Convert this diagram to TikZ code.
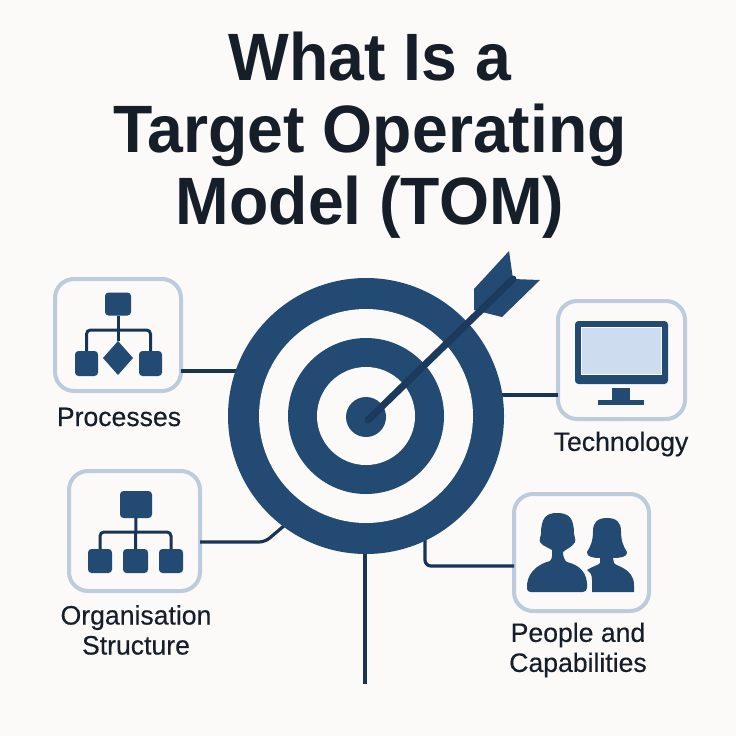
\documentclass[tikz,border=0pt]{standalone}
\usepackage{fontspec}
\usetikzlibrary{shapes.geometric}
\setmainfont{Liberation Sans}
\newfontfamily\titlefont[FakeStretch=0.96]{Liberation Sans}
\newfontfamily\labelfont[FakeBold=0.35]{Liberation Sans}
\definecolor{pagebg}{HTML}{FBFAF8}
\definecolor{navy}{HTML}{234A72}
\definecolor{darknavy}{HTML}{183556}
\definecolor{shaftnavy}{HTML}{1C3A5C}
\definecolor{boxline}{HTML}{BCCCDD}
\definecolor{screenfill}{HTML}{CDDCEE}
\definecolor{inktext}{HTML}{161E29}
\tikzset{
  ring/.style={circle,draw=none,inner sep=0pt,outer sep=0pt,minimum size=#1},
  iconbox/.style={draw=boxline,line width=4pt,fill=pagebg,rounded corners=19pt,inner sep=0pt,outer sep=0pt},
  block/.style={draw=none,fill=navy,rounded corners=3.5pt,inner sep=0pt,outer sep=0pt},
  link/.style={draw=darknavy,line width=3.2pt,rounded corners=6pt},
  iconlink/.style={draw=darknavy,line width=3pt,rounded corners=4pt},
  label/.style={font=\labelfont\fontsize{26.6}{30}\selectfont,text=inktext,align=center,inner sep=0pt},
  heading/.style={font=\titlefont\fontsize{67}{72}\selectfont\bfseries,text=inktext,align=center,inner sep=0pt}
}
\begin{document}
\begin{tikzpicture}[x=1pt,y=-1pt]
      \fill[pagebg] (0,0) rectangle (736,736);
      \node[heading] (title) at (370,135) {What Is a\\Target Operating\\Model (TOM)};
      \node[iconbox,minimum width=126pt,minimum height=112pt] (procbox) at (118,335) {};
      \node[iconbox,minimum width=131pt,minimum height=120pt] (orgbox) at (134.5,531) {};
      \node[iconbox,minimum width=127pt,minimum height=118pt] (techbox) at (621.5,360) {};
      \node[iconbox,minimum width=135pt,minimum height=117pt] (peoplebox) at (581.5,552.5) {};
      \node[label] (proclabel) at (119,417) {Processes};
      \node[label] (orglabel) at (136,630) {Organisation\\Structure};
      \node[label] (techlabel) at (621,444) {Technology};
      \node[label] (peoplelabel) at (578,650) {People and\\Capabilities};
      \coordinate (procend) at (245,371);
      \coordinate (orgbend) at (265,542);
      \coordinate (orgend) at (292,519);
      \coordinate (techend) at (495,395);
      \coordinate (peoplebend) at (425,566);
      \coordinate (peopleend) at (425,530);
      \coordinate (stemend) at (365,684);
      \coordinate (stemtop) at (365,540);
      \begin{scope}
        \draw[link] (procbox.east |- procend) -- (procend);
        \draw[link] (orgbox.east |- orgbend) -- (orgbend) -- (orgend);
        \draw[link] (techbox.west |- techend) -- (techend);
        \draw[link] (peoplebox.west |- peoplebend) -- (peoplebend) -- (peopleend);
        \draw[link] (stemtop) -- (stemend);
      \end{scope}
      \node[ring=276pt,fill=navy] (outer) at (366,416) {};
      \node[ring=214pt,fill=pagebg] (gapa) at (366,416) {};
      \node[ring=156pt,fill=navy] (inner) at (366,416) {};
      \node[ring=98pt,fill=pagebg] (gapb) at (366,416) {};
      \node[ring=40pt,fill=navy] (bull) at (366,417) {};
      \coordinate (tail) at (513,279);
      \fill[navy] (474,289) -- (509,251) -- (tail) -- (540,280) -- (502,317) -- (474,310) -- cycle;
      \draw[shaftnavy,line width=7pt,line cap=round] (bull.center) ++(2,3) -- (tail);
      \node[block,minimum width=26pt,minimum height=23pt] (proctop) at (118,304) {};
      \node[block,minimum width=23pt,minimum height=25pt] (procleft) at (86.5,363.5) {};
      \node[block,minimum width=23pt,minimum height=25pt] (procright) at (150.5,363.5) {};
      \node[diamond,fill=navy,inner sep=0pt,outer sep=0pt,minimum width=30pt,minimum height=34pt] (procmid) at (118,358) {};
      \coordinate (procbus) at (118,330);
      \draw[iconlink] (procleft.north) |- (procbus) -| (procright.north);
      \draw[iconlink] (proctop.south) -- (procmid.north);
      \node[block,minimum width=32pt,minimum height=27pt] (orgtop) at (136,504.5) {};
      \node[block,minimum width=24pt,minimum height=24pt] (orgleft) at (100,561) {};
      \node[block,minimum width=25pt,minimum height=24pt] (orgmid) at (135.5,561) {};
      \node[block,minimum width=24pt,minimum height=24pt] (orgright) at (171,561) {};
      \coordinate (orgbus) at (136,532);
      \draw[iconlink] (orgleft.north) |- (orgbus) -| (orgright.north);
      \draw[iconlink] (orgtop.south) -- (orgmid.north);
      \node[block,minimum width=93pt,minimum height=63pt] (monitor) at (621.5,352.5) {};
      \node[draw=white,line width=1pt,fill=screenfill,inner sep=0pt,outer sep=0pt,minimum width=80pt,minimum height=47pt] (screen) at (621,350.5) {};
      \node[fill=navy,inner sep=0pt,outer sep=0pt,minimum width=18pt,minimum height=13pt] (neck) at (621,394) {};
      \node[fill=navy,inner sep=0pt,outer sep=0pt,minimum width=46pt,minimum height=5pt] (foot) at (621,402) {};
      \fill[navy] (527,589) .. controls (526,575) and (535,565) .. (550,561)
        .. controls (553,558) and (552,553) .. (552,550)
        .. controls (546,546) and (538,545) .. (540,538)
        .. controls (541,536) and (541,536) .. (541,534)
        .. controls (541,518) and (546,513) .. (557,513)
        .. controls (569,513) and (574,518) .. (574,534)
        .. controls (574,536) and (574,536) .. (575,538)
        .. controls (577,545) and (569,547) .. (563,552)
        .. controls (563,556) and (564,560) .. (567,562)
        .. controls (579,565) and (588,572) .. (587,588)
        .. controls (587,590) and (585,592) .. (583,592) -- (531,592)
        .. controls (529,592) and (527,591) .. (527,589) -- cycle;
      \fill[navy] (592,592) -- (592,580)
        .. controls (592,574) and (590,572) .. (587,570)
        .. controls (593,566) and (599,565) .. (600,563)
        -- (600,558)
        .. controls (594,558) and (586,557) .. (587,552)
        .. controls (591,546) and (593,540) .. (593,531)
        .. controls (593,522) and (598,518) .. (607,518)
        .. controls (616,518) and (621,522) .. (621,531)
        .. controls (621,540) and (623,546) .. (627,552)
        .. controls (628,557) and (620,558) .. (613,558)
        -- (614,563)
        .. controls (615,566) and (634,568) .. (634,585)
        -- (634,592) -- cycle;
    \end{tikzpicture}
\end{document}
